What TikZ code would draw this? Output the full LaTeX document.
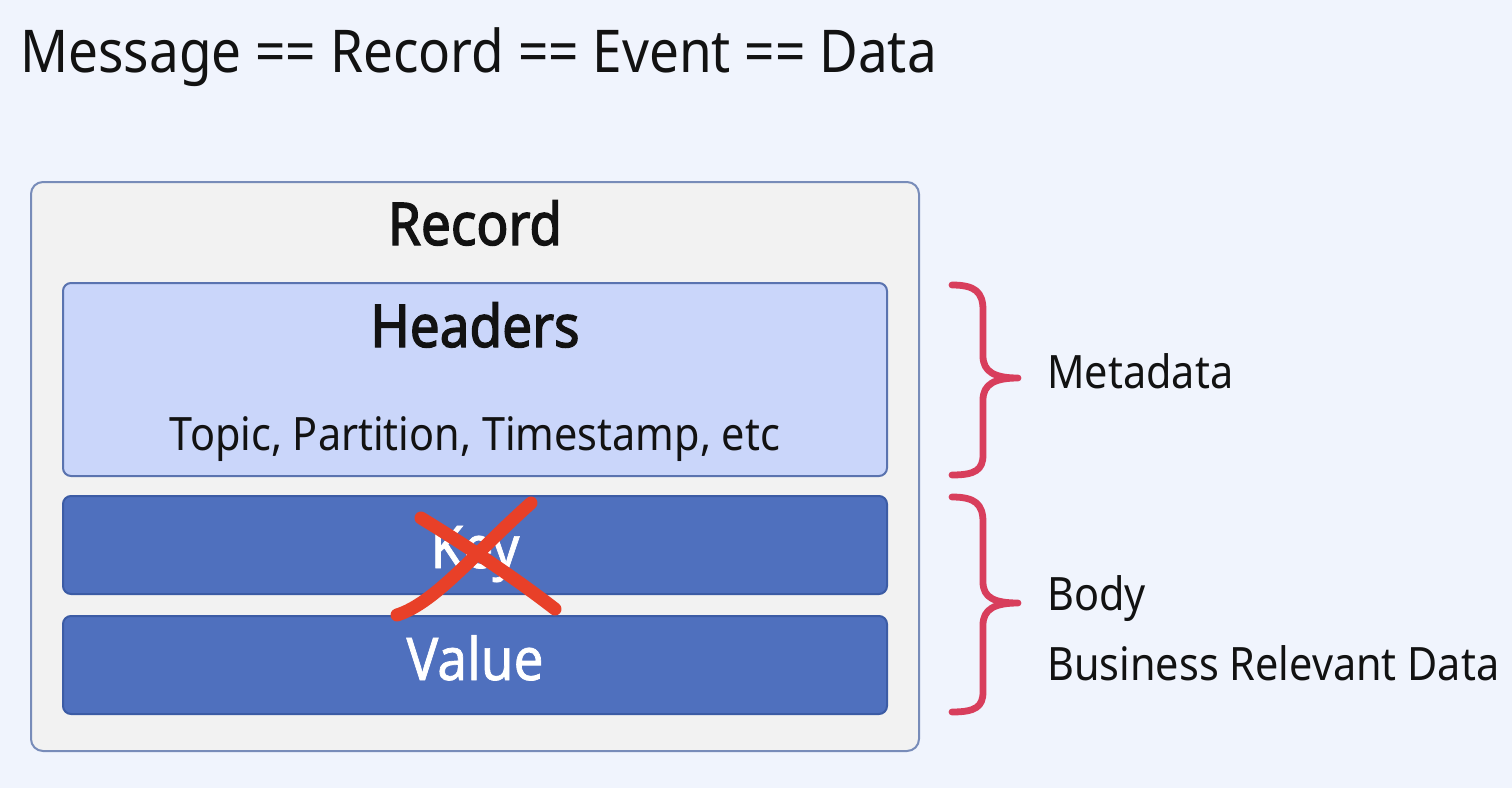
\documentclass[tikz,border=0pt]{standalone}
\usepackage{fontspec}
\setmainfont{Noto Sans}[FakeStretch=0.9]
\newfontfamily\boldfam{Noto Sans}[FakeStretch=0.9, FakeBold=2.2]
\newfontfamily\semifam{Noto Sans}[FakeStretch=0.9, FakeBold=1.2]
\definecolor{bgc}{RGB}{240,244,253}
\definecolor{outerfill}{RGB}{242,242,242}
\definecolor{outerline}{RGB}{120,140,185}
\definecolor{headfill}{RGB}{202,214,250}
\definecolor{headline}{RGB}{90,115,175}
\definecolor{kvfill}{RGB}{79,112,190}
\definecolor{kvline}{RGB}{60,92,165}
\definecolor{bracec}{RGB}{216,62,92}
\definecolor{crossc}{RGB}{232,64,40}
\definecolor{txt}{RGB}{18,18,18}
\tikzset{
  boxbase/.style={draw, line width=1pt, inner sep=0pt, rounded corners=4pt},
  outerbox/.style={boxbase, fill=outerfill, draw=outerline, rounded corners=6pt, minimum width=444pt, minimum height=284.5pt},
  headbox/.style={boxbase, fill=headfill, draw=headline, minimum width=412pt, minimum height=96.5pt},
  kvbox/.style={boxbase, fill=kvfill, draw=kvline, minimum width=412pt, minimum height=49pt},
  bigtxt/.style={inner sep=0pt, anchor=base, text=txt, font=\fontsize{29.5}{34}\selectfont},
  boldtxt/.style={bigtxt, font=\boldfam\fontsize{29.5}{34}\selectfont},
  smalltxt/.style={inner sep=0pt, anchor=base, text=txt, font=\fontsize{23}{27}\selectfont},
  sidetxt/.style={smalltxt, anchor=base west},
  kvtxt/.style={inner sep=0pt, anchor=base, text=white, font=\semifam\fontsize{29.5}{34}\selectfont},
  bracestyle/.style={draw=bracec, line width=3.4pt, line cap=round, line join=round},
  crossstyle/.style={draw=crossc, line width=6.5pt, line cap=round}
}
\begin{document}
\begin{tikzpicture}[x=0.5pt, y=-0.5pt]
\fill[bgc] (0,0) rectangle (1512,788);
\useasboundingbox (0,0) rectangle (1512,788);
\node[bigtxt, anchor=base west] (title) at (20,72) {Message == Record == Event == Data};
\node[outerbox] (outer) at (475,466.5) {};
\node[boldtxt] (recordlbl) at (475,245) {Record};
\node[headbox] (headers) at (475,379.5) {};
\node[boldtxt] (headerslbl) at (475,347) {Headers};
\node[smalltxt] (topic) at (475,450) {Topic, Partition, Timestamp, etc};
\node[kvbox] (key) at (475,545) {};
\node[kvtxt] (keylbl) at (475,568) {Key};
\node[kvbox] (value) at (475,665) {};
\node[kvtxt] (valuelbl) at (475,680) {Value};
% cross over Key
\coordinate (c1a) at (397,615);
\coordinate (c1b) at (531,503);
\coordinate (c2a) at (421,518);
\coordinate (c2b) at (555,609);
\draw[crossstyle] (c1a) .. controls (435,603) and (475,553) .. (c1b);
\draw[crossstyle] (c2a) .. controls (470,548) and (515,578) .. (c2b);
% braces
\path[bracestyle] (952,285) .. controls (975,285) and (983,292) .. (983,310) -- (983,356) .. controls (983,372) and (995,378) .. (1018,378)
  .. controls (995,378) and (983,384) .. (983,400) -- (983,455) .. controls (983,470) and (975,475) .. (952,475);
\path[bracestyle] (952,497) .. controls (975,497) and (983,504) .. (983,522) -- (983,582) .. controls (983,598) and (995,603) .. (1018,603)
  .. controls (995,603) and (983,609) .. (983,625) -- (983,692) .. controls (983,707) and (975,712) .. (952,712);
\node[sidetxt] (meta) at (1047,388) {Metadata};
\node[sidetxt] (body) at (1047,610) {Body};
\node[sidetxt] (biz) at (1047,680) {Business Relevant Data};
\end{tikzpicture}
\end{document}
